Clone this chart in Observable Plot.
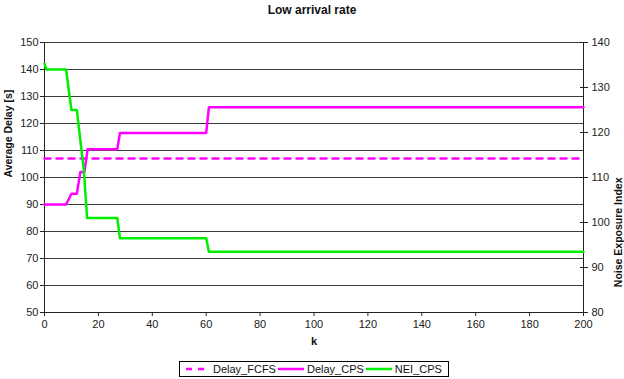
<!DOCTYPE html>
<html><head><meta charset="utf-8">
<script src="https://cdn.jsdelivr.net/npm/d3@7"></script>
<script src="https://cdn.jsdelivr.net/npm/@observablehq/plot@0.6"></script>
<style>
body{margin:0;background:#fff;font-family:"Liberation Sans",Arial,sans-serif;}
#wrap{position:relative;width:624px;height:379px;overflow:hidden;background:#fff}
#chart{position:absolute;left:0;top:0}
#title{position:absolute;top:3px;left:0;width:624px;text-align:center;font-weight:bold;font-size:12px;color:#111}
#legend{position:absolute;left:179px;top:361px;height:16px;border:1px solid #000;display:flex;align-items:center;font-size:11px;color:#111;padding:0 4px;box-sizing:border-box;white-space:nowrap}
#legend .item{display:flex;align-items:center;margin-right:2px}
#legend svg{margin-right:3px}
</style></head>
<body>
<div id="wrap">
  <div id="chart"></div>
  <div id="title"></div>
  <div id="legend"></div>
</div>
<script>
// ---- data ----
const titleText = "Low arrival rate";
const xLabel = "k";
const yLabelLeft = "Average Delay [s]";
const yLabelRight = "Noise Exposure Index";
const seriesNames = ["Delay_FCFS", "Delay_CPS", "NEI_CPS"];
const seriesColors = ["#ff00ff", "#ff00ff", "#00ee00"];

const kFCFS = [0, 200];
const delayFCFS = [107, 107];

const kCPS = [0, 8, 10, 12, 13.3, 14.8, 16, 27, 28, 60, 61, 200];
const delayCPS = [90, 90, 94, 94, 102, 102, 110.5, 110.5, 116.5, 116.5, 126, 126];

const kNEI = [0, 0.7, 8, 10, 12, 14.6, 15.8, 27, 28, 60, 61, 200];
const neiCPS = [135.3, 134, 134, 125, 125, 111.6, 101, 101, 96.5, 96.5, 93.5, 93.5];

const xTicks = [0, 20, 40, 60, 80, 100, 120, 140, 160, 180, 200];
const leftTicks = [50, 60, 70, 80, 90, 100, 110, 120, 130, 140, 150];
const rightTicks = [80, 90, 100, 110, 120, 130, 140];

// ---- secondary axis mapping (NEI 80..140 onto Delay 50..150) ----
const leftDomain = [50, 150], rightDomain = [80, 140];
const toLeft = v => leftDomain[0] + (v - rightDomain[0]) * (leftDomain[1] - leftDomain[0]) / (rightDomain[1] - rightDomain[0]);
const toRight = v => rightDomain[0] + (v - leftDomain[0]) * (rightDomain[1] - rightDomain[0]) / (leftDomain[1] - leftDomain[0]);

const fcfs = kFCFS.map((k, i) => ({k, v: delayFCFS[i]}));
const cps = kCPS.map((k, i) => ({k, v: delayCPS[i]}));
const nei = kNEI.map((k, i) => ({k, v: toLeft(neiCPS[i])}));
const rightTickPos = rightTicks.map(toLeft);

const chart = Plot.plot({
  width: 624,
  height: 352,
  marginLeft: 44,
  marginRight: 41,
  marginTop: 42,
  marginBottom: 40,
  style: {fontFamily: "'Liberation Sans', Arial, sans-serif", fontSize: "11px", color: "#222", background: "transparent"},
  x: {domain: [0, 200]},
  y: {domain: leftDomain},
  marks: [
    Plot.ruleY(leftTicks.slice(1), {stroke: "#3a3a3a", strokeWidth: 1}),
    Plot.ruleX([0], {stroke: "#222"}),
    Plot.ruleX([200], {stroke: "#222"}),
    Plot.ruleY([50], {stroke: "#222"}),
    Plot.axisX({ticks: xTicks, tickSize: 4, tickPadding: 4, label: null, stroke: "#222"}),
    Plot.axisY({ticks: leftTicks, tickSize: 4, tickPadding: 2, label: null}),
    Plot.axisY({anchor: "right", ticks: rightTickPos, tickSize: 8, dx: -4, tickFormat: () => "", label: null}),
    Plot.axisY({anchor: "right", ticks: rightTickPos, tickSize: 0, tickPadding: 8, tickFormat: d => Math.round(toRight(d)), label: null}),
    Plot.line(fcfs, {x: "k", y: "v", stroke: seriesColors[0], strokeWidth: 2.5, strokeDasharray: "6,6"}),
    Plot.line(cps, {x: "k", y: "v", stroke: seriesColors[1], strokeWidth: 2.5}),
    Plot.line(nei, {x: "k", y: "v", stroke: seriesColors[2], strokeWidth: 2.5}),
    Plot.text([yLabelLeft], {frameAnchor: "left", rotate: -90, dx: -36, text: d => d, fontWeight: "bold", fontSize: 10.5, fill: "#111"}),
    Plot.text([yLabelRight], {frameAnchor: "right", rotate: -90, dx: 35, text: d => d, fontWeight: "bold", fontSize: 10.5, fill: "#111"}),
    Plot.text([xLabel], {frameAnchor: "bottom", dy: 32, text: d => d, fontWeight: "bold", fontSize: 11, fill: "#111"})
  ]
});
document.getElementById("chart").appendChild(chart);
document.getElementById("title").textContent = titleText;

const legend = document.getElementById("legend");
const dashes = ["6,6", null, null];
seriesNames.forEach((name, i) => {
  const item = document.createElement("div");
  item.className = "item";
  const sw = document.createElementNS("http://www.w3.org/2000/svg", "svg");
  sw.setAttribute("width", 26); sw.setAttribute("height", 10);
  const ln = document.createElementNS("http://www.w3.org/2000/svg", "line");
  ln.setAttribute("x1", 0); ln.setAttribute("x2", 26); ln.setAttribute("y1", 5); ln.setAttribute("y2", 5);
  ln.setAttribute("stroke", seriesColors[i]); ln.setAttribute("stroke-width", 2.5);
  if (dashes[i]) { ln.setAttribute("stroke-dasharray", dashes[i]); ln.setAttribute("stroke-dashoffset", -2); }
  sw.appendChild(ln);
  item.appendChild(sw);
  const t = document.createElement("span"); t.textContent = name;
  item.appendChild(t);
  legend.appendChild(item);
});
</script>
</body></html>
